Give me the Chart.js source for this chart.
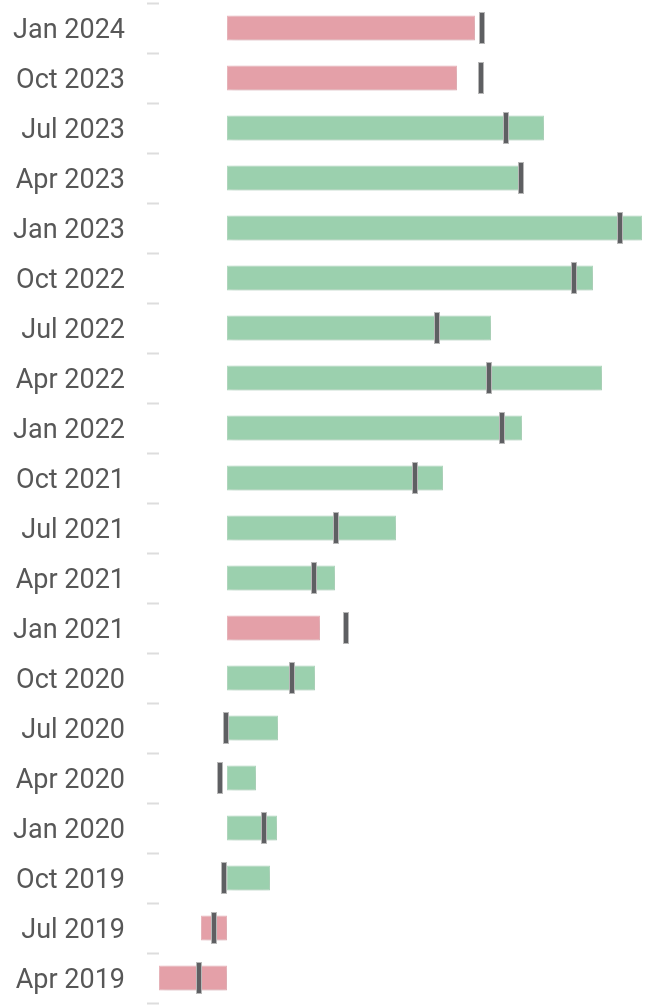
<!DOCTYPE html>
<html>
<head>
<meta charset="utf-8">
<script src="https://cdn.jsdelivr.net/npm/chart.js@4/dist/chart.umd.min.js"></script>
<style>
  html, body { margin: 0; padding: 0; background: #fff; }
  #wrap { width: 650px; height: 1008px; position: relative; }
</style>
</head>
<body>
<div id="wrap"><canvas id="c"></canvas></div>
<script>
const quarters = ["Jan 2024","Oct 2023","Jul 2023","Apr 2023","Jan 2023","Oct 2022","Jul 2022","Apr 2022","Jan 2022","Oct 2021","Jul 2021","Apr 2021","Jan 2021","Oct 2020","Jul 2020","Apr 2020","Jan 2020","Oct 2019","Jul 2019","Apr 2019"];
const actual   = [2.48, 2.30, 3.17, 2.94, 4.15, 3.66, 2.64, 3.75, 2.95, 2.16, 1.69, 1.08, 0.93, 0.88, 0.51, 0.29, 0.50, 0.43, -0.26, -0.68];
const estimate = [2.55, 2.54, 2.79, 2.94, 3.93, 3.47, 2.10, 2.62, 2.75, 1.88, 1.09, 0.87, 1.19, 0.65, -0.01, -0.07, 0.37, -0.03, -0.13, -0.28];

const GREEN = '#9bd0ae', GREEN_B = '#b4dcc2';
const RED = '#e4a0a8', RED_B = '#ecb8be';
const beat = actual.map((a, i) => a >= estimate[i]);

// marker glyph
const mk = document.createElement('canvas');
mk.width = 6; mk.height = 32;
const mctx = mk.getContext('2d');
mctx.fillStyle = '#b8b8b8';
mctx.fillRect(0, 0, 6, 32);
mctx.fillStyle = '#5e5f62';
mctx.fillRect(1, 1, 4, 30);

const shadowPlugin = {
  id: 'barShadow',
  beforeDatasetDraw(chart, args) {
    if (args.index !== 0) return;
    const ctx = chart.ctx;
    ctx.save();
    ctx.shadowColor = 'rgba(0,0,0,0.10)';
    ctx.shadowBlur = 8;
    ctx.shadowOffsetX = 2;
    ctx.shadowOffsetY = 3;
  },
  afterDatasetDraw(chart, args) {
    if (args.index !== 0) return;
    chart.ctx.restore();
  }
};

new Chart(document.getElementById('c'), {
  type: 'bar',
  data: {
    labels: quarters,
    datasets: [
      {
        type: 'bar',
        data: actual,
        backgroundColor: beat.map(b => b ? GREEN : RED),
        borderColor: beat.map(b => b ? GREEN_B : RED_B),
        borderWidth: 1,
        borderSkipped: false,
        categoryPercentage: 1,
        barPercentage: 0.5,
        order: 2
      },
      {
        type: 'line',
        indexAxis: 'y',
        data: estimate,
        showLine: false,
        pointStyle: mk,
        pointRadius: 5,
        pointHoverRadius: 5,
        order: 1
      }
    ]
  },
  options: {
    indexAxis: 'y',
    responsive: true,
    maintainAspectRatio: false,
    animation: false,
    events: [],
    layout: { autoPadding: false, padding: { left: 0, right: 8, top: 3, bottom: 5 } },
    plugins: { legend: { display: false }, tooltip: { enabled: false } },
    scales: {
      x: {
        display: false,
        min: Math.min(...actual, ...estimate),
        max: Math.max(...actual, ...estimate)
      },
      y: {
        afterFit(scale) { scale.width = 159; scale.paddingTop = 0; scale.paddingBottom = 0; },
        border: { display: false },
        grid: {
          offset: true,
          drawOnChartArea: false,
          drawTicks: true,
          tickLength: 12,
          tickColor: '#dddddd',
          tickWidth: 2
        },
        ticks: {
          padding: 22,
          labelOffset: 3,
          color: '#575757',
          font: { family: 'Roboto, "Open Sans", sans-serif', size: 27 }
        }
      }
    }
  },
  plugins: [shadowPlugin]
});
</script>
</body>
</html>
